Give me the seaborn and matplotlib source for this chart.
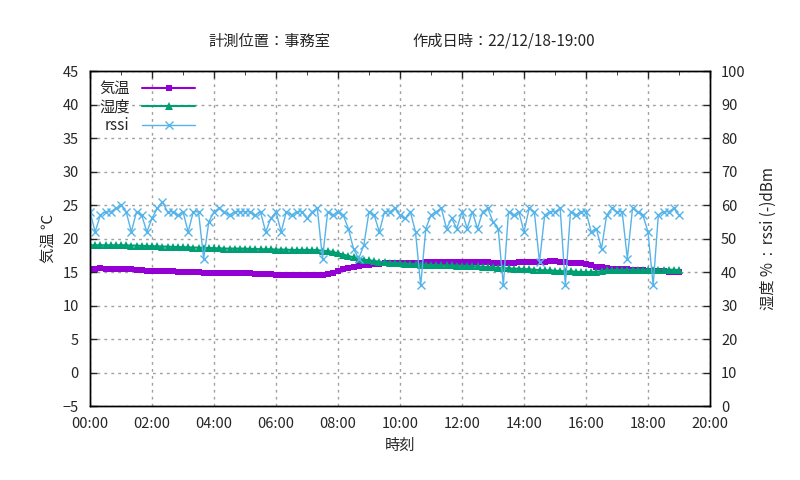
import numpy as np
import pandas as pd
import matplotlib
matplotlib.use("Agg")
import matplotlib.pyplot as plt
import seaborn as sns

# 10-minute samples, 00:00 .. 19:00
temp = [15.5, 15.5, 15.6, 15.5, 15.5, 15.5,
        15.5, 15.4, 15.4, 15.3, 15.3, 15.2,
        15.2, 15.2, 15.1, 15.1, 15.1, 15.0,
        15.0, 15.0, 15.0, 15.0, 14.9, 14.9,
        14.9, 14.9, 14.9, 14.8, 14.8, 14.8,
        14.8, 14.8, 14.7, 14.7, 14.7, 14.7,
        14.6, 14.6, 14.6, 14.6, 14.5, 14.5,
        14.5, 14.5, 14.5, 14.6, 14.7, 14.9,
        15.1, 15.4, 15.6, 15.8, 15.9, 16.0,
        16.1, 16.2, 16.2, 16.3, 16.3, 16.3,
        16.3, 16.4, 16.4, 16.4, 16.4, 16.5,
        16.5, 16.5, 16.5, 16.5, 16.5, 16.5,
        16.5, 16.5, 16.5, 16.5, 16.5, 16.5,
        16.4, 16.4, 16.4, 16.4, 16.4, 16.5,
        16.5, 16.5, 16.5, 16.5, 16.5, 16.6,
        16.6, 16.5, 16.5, 16.4, 16.4, 16.3,
        16.2, 16.0, 15.8, 15.7, 15.6, 15.5,
        15.5, 15.4, 15.4, 15.3, 15.3, 15.3,
        15.2, 15.2, 15.1, 15.1, 15.0, 15.0,
        15.0]
humid = [48.0, 48.0, 48.0, 48.0, 48.0, 48.0,
         48.0, 48.0, 47.9, 47.9, 47.8, 47.8,
         47.7, 47.7, 47.6, 47.6, 47.5, 47.5,
         47.4, 47.4, 47.3, 47.3, 47.2, 47.2,
         47.1, 47.1, 47.0, 47.0, 47.0, 47.0,
         47.0, 46.9, 46.9, 46.8, 46.8, 46.8,
         46.7, 46.7, 46.7, 46.6, 46.6, 46.6,
         46.6, 46.6, 46.5, 46.4, 46.2, 46.0,
         45.6, 45.2, 44.8, 44.4, 44.0, 43.7,
         43.5, 43.3, 43.1, 42.9, 42.8, 42.7,
         42.6, 42.5, 42.4, 42.3, 42.2, 42.2,
         42.1, 42.1, 42.0, 42.0, 42.0, 41.9,
         41.9, 41.8, 41.8, 41.7, 41.6, 41.5,
         41.4, 41.3, 41.2, 41.1, 41.0, 41.0,
         40.9, 40.8, 40.7, 40.6, 40.5, 40.5,
         40.4, 40.3, 40.2, 40.2, 40.1, 40.0,
         40.0, 40.0, 40.1, 40.3, 40.5, 40.6,
         40.6, 40.6, 40.7, 40.7, 40.7, 40.7,
         40.7, 40.7, 40.7, 40.7, 40.7, 40.7,
         40.6]
rssi = [58, 52, 57, 58, 58, 59,
        60, 58, 52, 58, 57, 52,
        56, 59, 61, 58, 58, 57,
        58, 52, 58, 58, 44, 55,
        58, 59, 58, 57, 58, 58,
        58, 58, 57, 58, 52, 56,
        58, 52, 58, 57, 58, 58,
        56, 58, 59, 44, 58, 57,
        58, 57, 53, 47, 44, 48,
        58, 57, 52, 58, 58, 59,
        57, 56, 58, 52, 36, 53,
        57, 58, 59, 53, 56, 53,
        58, 53, 58, 53, 58, 59,
        55, 53, 36, 58, 57, 58,
        52, 59, 58, 43, 57, 58,
        58, 59, 36, 58, 57, 58,
        58, 52, 53, 47, 57, 59,
        58, 58, 44, 59, 58, 57,
        52, 36, 57, 58, 58, 59,
        57]
times = pd.date_range("2022-12-18 00:00", periods=len(temp), freq="10min")
df = pd.DataFrame({"time": times, "temp": temp, "humid": humid, "rssi": rssi})
df["h"] = (df["time"] - df["time"].iloc[0]).dt.total_seconds() / 3600

sns.set_style("white")
plt.rcParams["font.family"] = ["Noto Sans CJK JP"]
fig, ax = plt.subplots(figsize=(8, 4.8), dpi=100)
fig.subplots_adjust(left=0.1125, right=0.8875, top=0.852, bottom=0.154)
ax2 = ax.twinx()

sns.lineplot(data=df, x="h", y="temp", ax=ax, color="#9400d3", marker="s",
             markersize=5, markeredgewidth=0, linewidth=1.5, label="気温",
             legend=False)
sns.lineplot(data=df, x="h", y="humid", ax=ax2, color="#009e73", marker="^",
             markersize=6, markeredgewidth=0, linewidth=1.5, label="湿度",
             legend=False)
sns.lineplot(data=df, x="h", y="rssi", ax=ax2, color="#56b4e9", marker="x",
             markersize=6, markeredgewidth=1, markeredgecolor="#56b4e9",
             linewidth=1, label="rssi", legend=False)

ax.set_xlim(0, 20)
ax.set_ylim(-5, 45)
ax2.set_ylim(0, 100)
ax.set_xticks(range(0, 21, 2))
ax.set_xticklabels([f"{h:02d}:00" for h in range(0, 21, 2)])
ax.set_yticks(range(-5, 46, 5))
ax.set_yticklabels([str(v).replace("-", "−") for v in range(-5, 46, 5)])
ax2.set_yticks(range(0, 101, 10))
ax.grid(True, color="#a0a0a0", linestyle=(0, (2, 3)), linewidth=1)
ax.xaxis.set_minor_locator(matplotlib.ticker.MultipleLocator(1))
for a in (ax, ax2):
    a.tick_params(direction="in", labelsize=10.5, length=5, width=1, pad=8)
    a.tick_params(which="minor", direction="in", length=3)
    for s in a.spines.values():
        s.set_color("black")
        s.set_linewidth(1)
ax.tick_params(top=True, which="both")
ax.set_xlabel("時刻", fontsize=11)
ax.set_ylabel("気温 ℃", fontsize=11)
ax2.set_ylabel("湿度 %  :  rssi (-)dBm", fontsize=11, labelpad=10)
fig.text(0.26, 0.905, "計測位置：事務室", fontsize=11)
fig.text(0.515, 0.905, "作成日時：22/12/18-19:00", fontsize=11)

h1, l1 = ax.get_legend_handles_labels()
h2, l2 = ax2.get_legend_handles_labels()
ax.legend(h1 + h2, l1 + l2, loc="upper left", frameon=False, fontsize=11,
          handlelength=3.5, borderaxespad=0.2, labelspacing=0.1,
          markerfirst=False)

fig.savefig("out.png", dpi=100)
